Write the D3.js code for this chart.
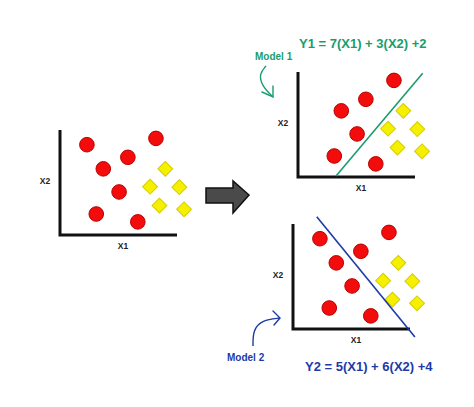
<!DOCTYPE html>
<html>
<head>
<meta charset="utf-8">
<script src="https://cdn.jsdelivr.net/npm/d3@7"></script>
<style>
  body { margin: 0; background: #fff; }
  text { font-family: "Liberation Sans", Arial, sans-serif; font-weight: bold; }
</style>
</head>
<body>
<script>
// data (axis units, 0..10 on both axes)
var redX = [2.3, 8.2, 3.7, 5.8, 5.05, 3.1, 6.65],
    redY = [8.6, 9.2, 6.3, 7.4, 4.1, 2.0, 1.25],
    yellowX = [9.0, 7.7, 10.2, 8.5, 10.6],
    yellowY = [6.3, 4.6, 4.55, 2.8, 2.45];

var model1Line = [[3.25, 0.1], [10.66, 9.88]],
    model2Line = [[2.03, 10.7], [10.42, -0.77]];

var eq1 = 'Y1 = 7(X1) + 3(X2) +2',
    eq2 = 'Y2 = 5(X1) + 6(X2) +4';

// layout
var width = 474, height = 407,
    axisW = 117, axisH = 105,
    green = '#1a9c6c', blue = '#1d3aa8';

var svg = d3.select('body').append('svg')
    .attr('width', width)
    .attr('height', height);

var red = redX.map(function(d, i) { return [d, redY[i]]; }),
    yellow = yellowX.map(function(d, i) { return [d, yellowY[i]]; });

// one little scatter panel
function panel(ox, oy, pts, line, lineColor) {
  var x = d3.scaleLinear().domain([0, 10]).range([ox, ox + axisW]),
      y = d3.scaleLinear().domain([0, 10]).range([oy, oy - axisH]);
  var g = svg.append('g');

  // red points
  g.selectAll('circle').data(pts).enter().append('circle')
    .attr('cx', function(d) { return x(d[0]); })
    .attr('cy', function(d) { return y(d[1]); })
    .attr('r', 7.3)
    .attr('fill', '#f40c0c')
    .attr('stroke', '#b80000')
    .attr('stroke-width', 1);

  // yellow diamonds
  g.selectAll('path.dia').data(yellow).enter().append('path')
    .attr('class', 'dia')
    .attr('d', d3.symbol().type(d3.symbolSquare).size(110))
    .attr('transform', function(d) { return 'translate(' + x(d[0]) + ',' + y(d[1]) + ') rotate(45)'; })
    .attr('fill', '#f4f000')
    .attr('stroke', '#d6cc00')
    .attr('stroke-width', 1);

  // axes
  g.append('path')
    .attr('d', 'M' + ox + ',' + (oy - axisH) + 'V' + oy + 'H' + (ox + axisW))
    .attr('fill', 'none')
    .attr('stroke', '#111')
    .attr('stroke-width', 3);

  g.append('text')
    .attr('x', ox - 15).attr('y', oy - 54 + 3)
    .attr('text-anchor', 'middle')
    .attr('font-size', 8.5)
    .attr('fill', '#222')
    .text('X2');
  g.append('text')
    .attr('x', ox + 63).attr('y', oy + 14)
    .attr('text-anchor', 'middle')
    .attr('font-size', 8.5)
    .attr('fill', '#222')
    .text('X1');

  if (line) {
    g.append('line')
      .attr('x1', x(line[0][0])).attr('y1', y(line[0][1]))
      .attr('x2', x(line[1][0])).attr('y2', y(line[1][1]))
      .attr('stroke', lineColor)
      .attr('stroke-width', 1.6);
  }
}

panel(60, 235, red, null);
panel(298, 177, red.slice(1), model1Line, green);
panel(293, 329, red, model2Line, blue);

// big arrow between panels
svg.append('path')
  .attr('d', 'M206,188 H233 V181 L249,195 L233,213 V203 H206 Z')
  .attr('fill', '#4a4a4a')
  .attr('stroke', '#111')
  .attr('stroke-width', 1.5)
  .attr('stroke-linejoin', 'miter');

// equations and model labels
svg.append('text').attr('x', 299).attr('y', 48)
  .attr('font-size', 13).attr('fill', green).text(eq1);
svg.append('text').attr('x', 305).attr('y', 371)
  .attr('font-size', 13).attr('fill', blue).text(eq2);

svg.append('text').attr('x', 255).attr('y', 60)
  .attr('font-size', 10).attr('fill', green).text('Model 1');
svg.append('text').attr('x', 227).attr('y', 361)
  .attr('font-size', 10).attr('fill', blue).text('Model 2');

// hand drawn arrows
var curve = d3.line().curve(d3.curveBasis);
svg.append('path')
  .attr('d', curve([[266, 66], [259, 74], [262, 86], [273, 97]]))
  .attr('fill', 'none').attr('stroke', green).attr('stroke-width', 1.4);
svg.append('path')
  .attr('d', 'M262,92 L273,97 L273,86')
  .attr('fill', 'none').attr('stroke', green).attr('stroke-width', 1.4)
  .attr('stroke-linecap', 'round');

svg.append('path')
  .attr('d', curve([[253, 346], [253, 330], [262, 320], [280, 318]]))
  .attr('fill', 'none').attr('stroke', blue).attr('stroke-width', 1.4);
svg.append('path')
  .attr('d', 'M273,311 L280,318 L274,325')
  .attr('fill', 'none').attr('stroke', blue).attr('stroke-width', 1.4)
  .attr('stroke-linecap', 'round');
</script>
</body>
</html>
